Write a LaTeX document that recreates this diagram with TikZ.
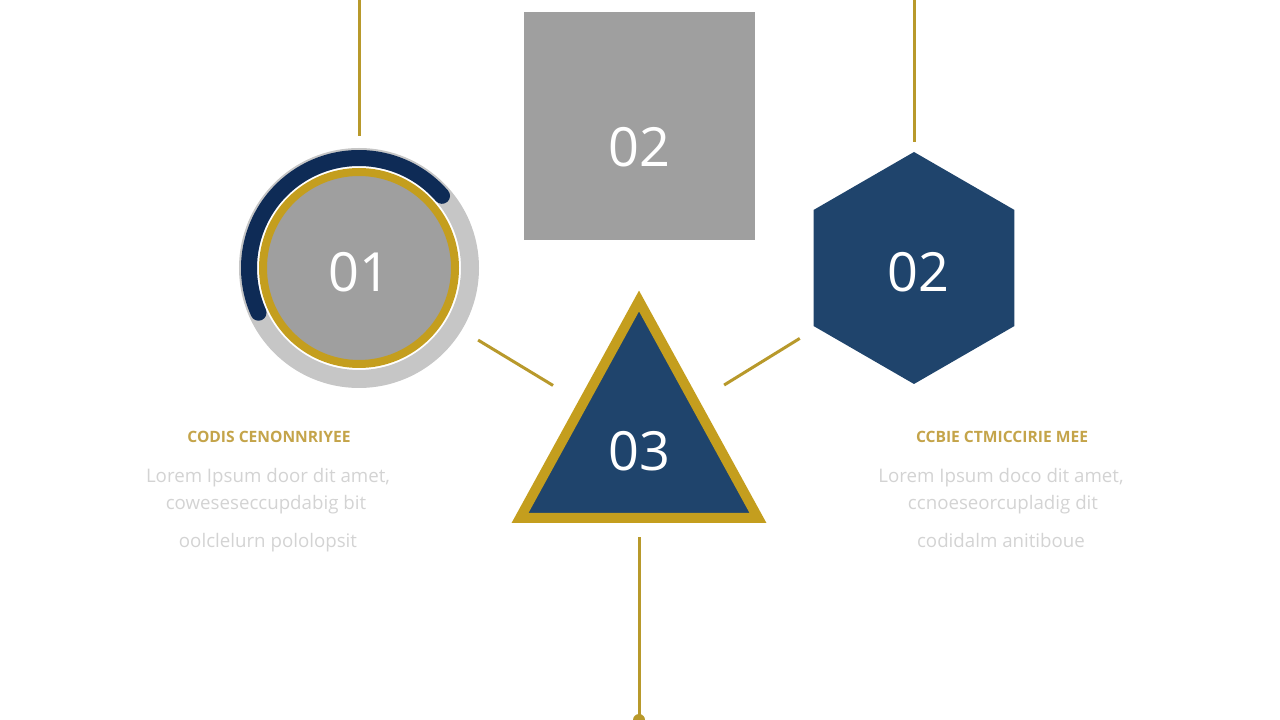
\documentclass[tikz,border=0pt]{standalone}
\usepackage{fontspec}
\setmainfont{Open Sans}
\usetikzlibrary{calc}
\definecolor{navy}{HTML}{1F446C}
\definecolor{darknavy}{HTML}{0E2B56}
\definecolor{gold}{HTML}{C49E1E}
\definecolor{linkgold}{HTML}{B8992B}
\definecolor{titlegold}{HTML}{C4A44A}
\definecolor{midgrey}{HTML}{9F9F9F}
\definecolor{lightgrey}{HTML}{C6C6C6}
\definecolor{bodygrey}{HTML}{D3D3D3}
\tikzset{
    link/.style={draw=linkgold, line width=3pt},
    numtext/.style={text=white, inner sep=0pt,
    	font=\fontsize{54}{54}\selectfont},
    title/.style={text=titlegold, inner sep=0pt, anchor=base,
    	font=\fontsize{15.6}{15.6}\selectfont\bfseries},
    body/.style={text=bodygrey, inner sep=0pt, anchor=base,
    	font=\fontsize{18.7}{18.7}\selectfont},
    hub/.style={circle, draw=none, fill=none, inner sep=0pt}
}

\begin{document}
\begin{tikzpicture}[x=1pt, y=1pt]
  \useasboundingbox (0,0) rectangle (1280,720);

  \coordinate (top1) at (359,720);
  \coordinate (top2) at (914,720);
  \coordinate (bot) at (639,0);
  \coordinate (tri) at (639,275);
  \coordinate (meet) at (639,282.5);
  \node (c1) [hub, minimum size=264pt] at (359,452) {};
  \node (hex) [hub, minimum size=252pt] at (914,452) {};
  \node (sq) [rectangle, fill=midgrey, inner sep=0pt, minimum width=231pt,
    minimum height=228pt] at (639.5,594) {};

  % ring
  \draw[lightgrey, line width=18pt] (c1) circle (111pt);
  \draw[darknavy, line width=16pt, line cap=round]
    ($(c1)+(41:110pt)$) arc (41:204:110pt);
  \fill[midgrey] (c1) circle (93pt);
  \draw[gold, line width=8pt] (c1) circle (96pt);

  % hexagon
  \fill[navy] ($(hex)+(90:116pt)$)
    \foreach \a in {150,210,270,330,390} { -- ($(hex)+(\a:116pt)$) } -- cycle;

  % triangle
  \draw[gold, fill=navy, line width=10pt, line join=miter]
    ($(tri)+(0,144)$) -- ($(tri)+(-119,-73)$) -- ($(tri)+(119,-73)$) -- cycle;

  \node (n01) [numtext] at ([yshift=-4pt]c1.center) {01};
  \node (n02a) [numtext] at ([yshift=-21pt]sq.center) {02};
  \node (n02b) [numtext] at ([xshift=4pt, yshift=-4pt]hex.center) {02};
  \node (n03) [numtext] at ([yshift=-6pt]tri) {03};

  \draw[link] (top1) -- (c1.north);
  \draw[link] (top2) -- (hex.north);
  \draw[link, shorten <=7pt, shorten >=100.5pt] (c1) -- (meet);
  \draw[link, shorten <=8pt, shorten >=100pt] (hex) -- (meet);
  \draw[link, shorten >=92pt] (bot) -- (tri);
  \node (dot) [circle, fill=linkgold, minimum size=12pt, inner sep=0pt] at (bot) {};

  \node (ltitle) [title] at (269,277) {CODIS CENONNRIYEE};
  \node (lbody1) [body] at (268,237) {Lorem Ipsum door dit amet,};
  \node (lbody2) [body] at (266,210) {coweseseccupdabig bit};
  \node (lbody3) [body] at (268,172) {oolclelurn pololopsit};

  \node (rtitle) [title] at (1002,277) {CCBIE CTMICCIRIE MEE};
  \node (rbody1) [body] at (1001,237) {Lorem Ipsum doco dit amet,};
  \node (rbody2) [body] at (1003,210) {ccnoeseorcupladig dit};
  \node (rbody3) [body] at (1001,172) {codidalm anitiboue};
\end{tikzpicture}
\end{document}
